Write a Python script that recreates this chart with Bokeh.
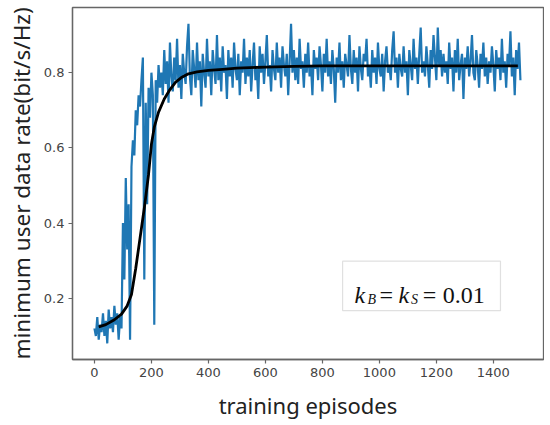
from bokeh.plotting import figure
from bokeh.models import FixedTicker, Label, BoxAnnotation, Range1d
from bokeh.embed import file_html
from bokeh.resources import INLINE

# raw per-episode minimum user data rate (sampled every 5 episodes)
rate_early = [0.12, 0.10, 0.15, 0.09, 0.13, 0.11, 0.16, 0.10, 0.14, 0.08,
              0.17, 0.12, 0.15, 0.11, 0.18, 0.13, 0.16, 0.09, 0.15, 0.12]
rate_transition = [0.40, 0.25, 0.52, 0.33, 0.45, 0.09, 0.55, 0.62, 0.58, 0.70,
                   0.66, 0.74, 0.71, 0.78, 0.84, 0.25, 0.72, 0.45, 0.76, 0.68,
                   0.80, 0.74, 0.13, 0.78, 0.72, 0.82, 0.76]
rate_steady = [
    0.80, 0.74, 0.86, 0.77, 0.83, 0.72, 0.88, 0.79, 0.75, 0.84,
    0.78, 0.89, 0.76, 0.82, 0.73, 0.85, 0.80, 0.77, 0.87, 0.93,
    0.79, 0.74, 0.86, 0.81, 0.76, 0.88, 0.78, 0.83, 0.71, 0.85,
    0.80, 0.76, 0.89, 0.79, 0.83, 0.74, 0.86, 0.81, 0.77, 0.90,
    0.78, 0.84, 0.75, 0.87, 0.80, 0.82, 0.73, 0.86, 0.79, 0.84,
    0.76, 0.88, 0.81, 0.78, 0.85, 0.74, 0.83, 0.80, 0.89, 0.77,
    0.84, 0.79, 0.86, 0.75, 0.82, 0.88, 0.78, 0.81, 0.73, 0.87,
    0.80, 0.85, 0.77, 0.83, 0.90, 0.79, 0.82, 0.75, 0.86, 0.81,
    0.78, 0.88, 0.80, 0.84, 0.76, 0.87, 0.82, 0.79, 0.85, 0.74,
    0.83, 0.93, 0.80, 0.86, 0.78, 0.84, 0.77, 0.89, 0.81, 0.83,
    0.76, 0.85, 0.80, 0.88, 0.79, 0.82, 0.74, 0.86, 0.81, 0.84,
    0.78, 0.87, 0.82, 0.75, 0.85, 0.80, 0.89, 0.79, 0.83, 0.77,
    0.86, 0.81, 0.72, 0.84, 0.80, 0.88, 0.78, 0.83, 0.76, 0.85,
    0.82, 0.79, 0.90, 0.81, 0.77, 0.86, 0.80, 0.84, 0.75, 0.87,
    0.81, 0.78, 0.85, 0.83, 0.89, 0.79, 0.82, 0.76, 0.86, 0.80,
    0.84, 0.77, 0.88, 0.81, 0.79, 0.85, 0.75, 0.83, 0.87, 0.80,
    0.82, 0.78, 0.86, 0.91, 0.80, 0.84, 0.76, 0.85, 0.81, 0.79,
    0.87, 0.80, 0.83, 0.74, 0.86, 0.82, 0.78, 0.89, 0.81, 0.84,
    0.77, 0.85, 0.92, 0.80, 0.83, 0.79, 0.87, 0.82, 0.76, 0.86,
    0.81, 0.90, 0.84, 0.78, 0.92, 0.82, 0.86, 0.79, 0.85, 0.80,
    0.83, 0.77, 0.88, 0.81, 0.84, 0.75, 0.86, 0.80, 0.89, 0.78,
    0.82, 0.85, 0.73, 0.84, 0.81, 0.87, 0.79, 0.83, 0.90, 0.80,
    0.78, 0.86, 0.82, 0.76, 0.85, 0.81, 0.88, 0.79, 0.84, 0.77,
    0.83, 0.80, 0.87, 0.82, 0.75, 0.86, 0.81, 0.84, 0.78, 0.89,
    0.80, 0.83, 0.76, 0.85, 0.82, 0.91, 0.79, 0.84, 0.74, 0.86,
    0.81, 0.88, 0.78,
]
rate_raw = rate_early + rate_transition + rate_steady
episodes_raw = [5 * i for i in range(len(rate_raw))]

# smoothed curve (black)
episodes_smooth = [15, 40, 70, 95, 115, 130, 145, 160, 175, 190, 200, 210, 225,
                   245, 265, 285, 305, 330, 360, 400, 450, 500, 600, 700, 800,
                   1000, 1200, 1486]
rate_smooth = [0.124, 0.130, 0.143, 0.158, 0.180, 0.210, 0.28, 0.36, 0.44, 0.53,
               0.61, 0.655, 0.695, 0.73, 0.755, 0.775, 0.787, 0.797, 0.802,
               0.806, 0.809, 0.812, 0.815, 0.817, 0.818, 0.818, 0.818, 0.818]

x_ticks = [0, 200, 400, 600, 800, 1000, 1200, 1400]
y_ticks = [0.2, 0.4, 0.6, 0.8]

p = figure(width=544, height=423, output_backend="svg", toolbar_location=None,
           x_range=Range1d(-77, 1576), y_range=Range1d(0.0373, 0.9733),
           min_border_left=72, min_border_right=1, min_border_top=7,
           min_border_bottom=64)
p.background_fill_color = "white"
p.border_fill_color = "white"
p.outline_line_color = "#666666"
p.outline_line_width = 1.3
p.xgrid.visible = False
p.ygrid.visible = False

p.line(episodes_raw, rate_raw, line_color="#1f77b4", line_width=2.2)
p.line(episodes_smooth, rate_smooth, line_color="black", line_width=2.8)

for ax in (p.xaxis, p.yaxis):
    ax.axis_line_color = "#666666"
    ax.axis_line_width = 1.3
    ax.major_tick_line_color = "#666666"
    ax.major_tick_line_width = 1.2
    ax.major_tick_out = 4
    ax.major_tick_in = 0
    ax.minor_tick_line_color = None
    ax.major_label_text_font = "DejaVu Sans"
    ax.major_label_text_font_size = "13px"
    ax.major_label_text_color = "#444444"
    ax.major_label_standoff = 4
    ax.axis_label_text_font = "Noto Sans"
    ax.axis_label_text_font_style = "normal"
    ax.axis_label_text_color = "#222222"

p.xaxis.axis_label_text_font_size = "22px"
p.yaxis.axis_label_text_font_size = "22.5px"
p.xaxis.ticker = FixedTicker(ticks=x_ticks)
p.yaxis.ticker = FixedTicker(ticks=y_ticks)
p.xaxis.axis_label = "training episodes"
p.yaxis.axis_label = "minimum user data rate(bit/s/Hz)"
p.xaxis.axis_label_standoff = 10
p.yaxis.axis_label_standoff = 4

# annotation box
box = BoxAnnotation(left=871, right=1425, bottom=0.167, top=0.2987,
                    fill_color="white", fill_alpha=1.0,
                    line_color="#999999", line_width=1.2)
p.add_layout(box)

serif = "Liberation Serif"
pieces = [
    ("k", 913, 0.208, "italic", "24px"),
    ("B", 958, 0.1965, "italic", "14px"),
    ("=", 1000, 0.208, "normal", "24px"),
    ("k", 1067, 0.208, "italic", "24px"),
    ("S", 1111, 0.1965, "italic", "14px"),
    ("=", 1152, 0.208, "normal", "24px"),
    ("0.01", 1222, 0.208, "normal", "24px"),
]
for txt, xx, yy, style, size in pieces:
    p.add_layout(Label(x=xx, y=yy, text=txt, text_font=serif,
                       text_font_style=style, text_font_size=size,
                       text_color="#111111", text_baseline="alphabetic"))

open("out.html", "w").write(file_html(p, INLINE))
